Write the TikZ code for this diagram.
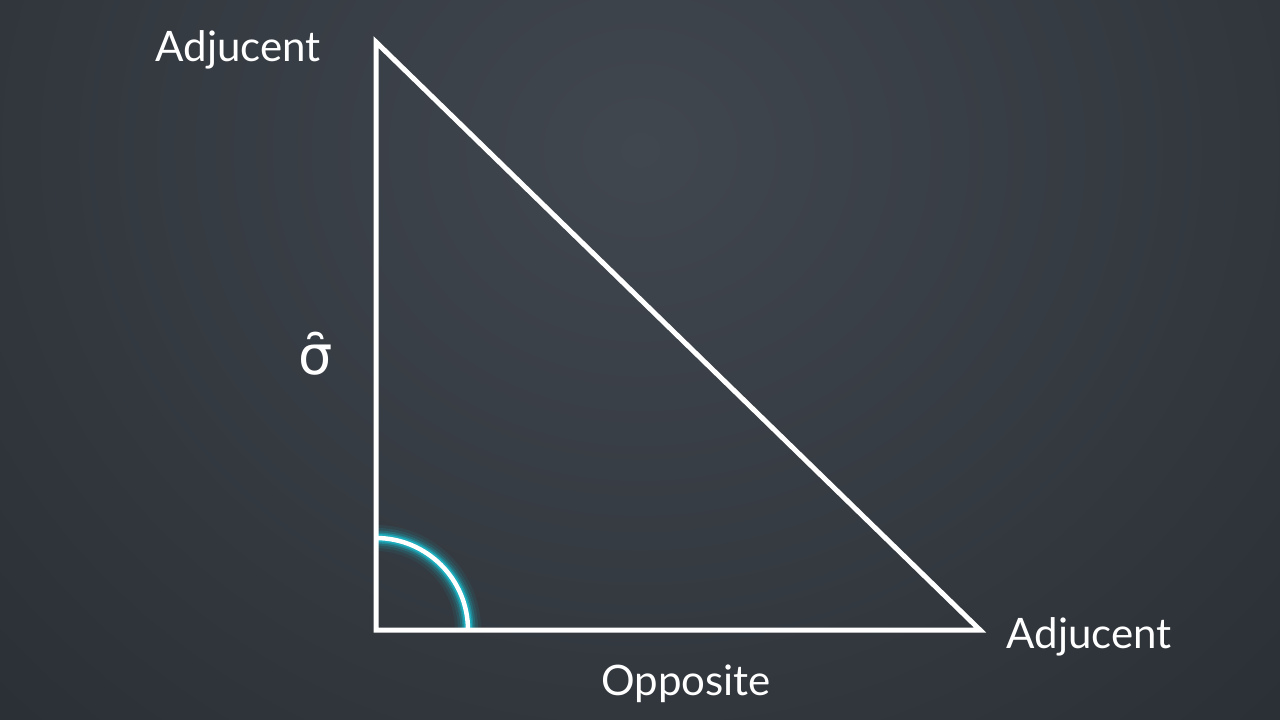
\documentclass[tikz,border=0pt]{standalone}
\usepackage{fontspec}
\setmainfont{Lato}
\newfontfamily\symfont{DejaVu Sans}
\definecolor{bgmid}{HTML}{41474F}
\definecolor{bgedge}{HTML}{2B3036}
\definecolor{glow}{HTML}{18C4D6}
\tikzset{
  lbl/.style={text=white, font=\fontsize{42}{44}\selectfont, inner sep=0pt},
  side/.style={white, line width=5pt, line join=miter},
}
\begin{document}
\begin{tikzpicture}[x=1pt,y=-1pt]
\useasboundingbox (0,0) rectangle (1280,720);
\fill[bgedge] (0,0) rectangle (1280,720);
\shade[inner color=bgmid, outer color=bgedge] (-250,-650) rectangle (1530,950);
% vertices
\coordinate (T) at (376,42);
\coordinate (O) at (376,630);
\coordinate (R) at (980,630);
% glow arc
\foreach \w/\o in {26/0.08,20/0.12,15/0.2,11/0.35,8/0.6}{
  \draw[glow, line width=\w pt, opacity=\o] (468,630) arc[start angle=0, end angle=-90, radius=92];
}
\draw[white, line width=4.5pt] (468,630) arc[start angle=0, end angle=-90, radius=92];
\draw[side] (T) -- (O) -- (R) -- cycle;
% labels
\node[lbl] (adjTop) at (238,50) {Adjucent};
\node[lbl] (adjRight) at (1089,637) {Adjucent};
\node[lbl] (opp) at (686,684) {Opposite};
\node[text=white, inner sep=0pt, font=\symfont\fontsize{54}{56}\selectfont] (sig) at (316,354) {σ̑};
\end{tikzpicture}
\end{document}
